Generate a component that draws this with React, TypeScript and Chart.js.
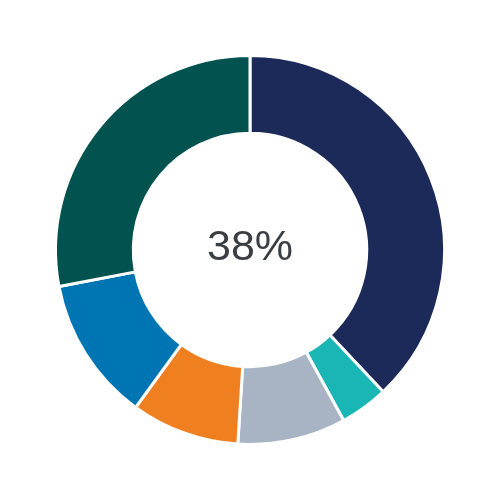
import React, { useEffect, useRef } from 'react';
import { Chart, registerables } from 'chart.js';

Chart.register(...registerables);

const labels = ['Navy', 'Teal', 'Grey', 'Orange', 'Blue', 'Green'];
const values = [38, 4, 9, 9, 12, 28];
const colors = ['#1c2a5a', '#1ab5b5', '#a8b3c3', '#f07f1f', '#0075b4', '#02524f'];
const centerLabel = '38%';

const centerText = {
    id: 'centerText',
    afterDraw(chart: Chart) {
        const meta = chart.getDatasetMeta(0);
        const arc: any = meta.data[0];
        if (!arc) return;
        const { ctx } = chart;
        ctx.save();
        ctx.font = '43px "Liberation Sans", Arial, sans-serif';
        ctx.fillStyle = '#3a3e43';
        ctx.textAlign = 'center';
        ctx.textBaseline = 'middle';
        ctx.fillText(centerLabel, arc.x, arc.y - 2);
        ctx.restore();
    },
};

const DonutChart: React.FC = () => {
    const chartRef = useRef<HTMLCanvasElement>(null);
    const chartInstanceRef = useRef<Chart | null>(null);

    useEffect(() => {
        const ctx = chartRef.current?.getContext('2d');
        if (!ctx) return;
        if (chartInstanceRef.current) chartInstanceRef.current.destroy();

        chartInstanceRef.current = new Chart(ctx, {
            type: 'doughnut',
            data: {
                labels,
                datasets: [
                    {
                        data: values,
                        backgroundColor: colors,
                        borderColor: '#ffffff',
                        borderWidth: 3,
                    },
                ],
            },
            options: {
                animation: false,
                responsive: true,
                maintainAspectRatio: false,
                cutout: '60%',
                layout: { padding: 54 },
                plugins: {
                    legend: { display: false },
                    tooltip: { enabled: false },
                },
            },
            plugins: [centerText],
        });

        return () => {
            if (chartInstanceRef.current) {
                chartInstanceRef.current.destroy();
                chartInstanceRef.current = null;
            }
        };
    }, []);

    return <canvas ref={chartRef}></canvas>;
};

export default function App() {
    return (
        <div style={{ position: 'absolute', left: 0, top: 0, width: 500, height: 500, background: '#ffffff' }}>
            <DonutChart />
        </div>
    );
}
